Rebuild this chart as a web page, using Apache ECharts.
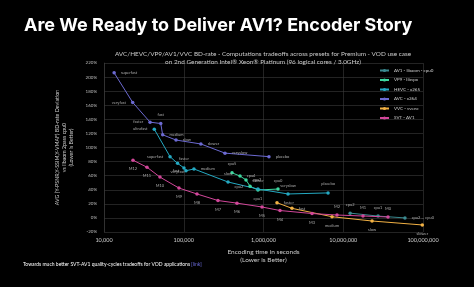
<!DOCTYPE html>
<html>
<head>
<meta charset="utf-8">
<script src="https://cdn.jsdelivr.net/npm/echarts@6/dist/echarts.min.js"></script>
<style>
html,body{margin:0;padding:0;background:#000;}
#chart{width:474px;height:287px;}
</style>
</head>
<body>
<div id="chart"></div>
<script>
// series data: [encoding time (s), BD-rate deviation (%), preset]
var av1Libaom = [[12200000, 6.8, "cpu2"], [27300000, 2.6, "cpu1"], [59400000, 0, "cpu2 ... cpu0"]];
var vp9Libvpx = [[403000, 64, "cpu5"], [507000, 59.5, "cpu4"], [603000, 54, "cpu3"], [678000, 45, "cpu2"],
	[852000, 39.6, "cpu1"], [1520000, 41, "cpu0"]];
var hevcX265 = [[42700, 126, "ultrafast"], [67300, 87, "superfast"], [83600, 77.5, "veryfast"], [100700, 71, "faster"],
	[106700, 67, "fast"], [134300, 69.5, "medium"], [359000, 51, "slow"], [852000, 41, "slower"],
	[2030000, 34, "veryslow"], [6450000, 35.5, "placebo"]];
var avcX264 = [[13400, 206, "superfast"], [22900, 164, "veryfast"], [37800, 136, "faster"], [51500, 134, "fast"],
	[54400, 118, "medium"], [80000, 110.6, "slow"], [164000, 105, "slower"], [329000, 92, "veryslow"], [1170000, 87, "placebo"]];
var vvcVvenc = [[1476000, 21.6, "faster"], [2275000, 13.6, "fast"], [7230000, 1.7, "medium"], [22970000, -4.4, "slow"], [98000000, -10, "slower"]];
var svtAv1 = [[23100, 82, "M12"], [34600, 72, "M11"], [50300, 58, "M10"], [87100, 42.4, "M9"], [146500, 34, "M8"],
	[268500, 24.7, "M7"], [465000, 21, "M6"], [958000, 15.5, "M5"], [1610000, 10.5, "M4"], [4060000, 6.2, "M3"],
	[8350000, 4.1, "M2"], [17700000, 2.7, "M1"], [36400000, 1.3, "M0"]];

var seriesNames = ["AV1 - libaom - cpu0", "VP9 - libvpx", "HEVC - x265", "AVC - x264", "VVC - vvenc", "SVT - AV1"];
var seriesData = [av1Libaom, vp9Libvpx, hevcX265, avcX264, vvcVvenc, svtAv1];
var colors = ["#3a8a90", "#3ed8a0", "#24a9c2", "#6c6ad2", "#f2b144", "#d2479a"];
var yTicks = [-20, 0, 20, 40, 60, 80, 100, 120, 140, 160, 180, 200, 220];

// where each point's label goes (per series)
var labelPos = [
	["top", "top", "right"],
	["top", "right", "right", "left", "bottom", "top"],
	["left", "left", "bottom", "top", "left", "right", "top", "top", "top", "top"],
	["right", "left", "left", "top", "right", "right", "right", "right", "right"],
	["right", "right", "bottom", "bottom", "bottom"],
	["bottom", "bottom", "bottom", "bottom", "bottom", "bottom", "bottom", "bottom", "bottom", "bottom", "top", "top", "top"]
];

var mychart = echarts.init(document.getElementById("chart"));
var series = [];
for (var i = 0; i < seriesData.length; i++) {
	var pts = [];
	for (var j = 0; j < seriesData[i].length; j++) {
		pts.push({
			value: seriesData[i][j],
			label: {position: labelPos[i][j]}
		});
	}
	let item = {
		name: seriesNames[i],
		type: "line",
		data: pts,
		symbol: "circle",
		symbolSize: 3.5,
		lineStyle: {width: 1},
		label: {
			show: true,
			formatter: function(p){ return p.value[2]; },
			distance: 5,
			color: "#aaa",
			fontSize: 4,
			fontFamily: "Lato"
		},
		z: i === 5 ? 5 : 3
	};
	series.push(item);
}

var option = {
	backgroundColor: "#000",
	color: colors,
	animation: false,
	title: [{
		text: "Are We Ready to Deliver AV1? Encoder Story",
		left: 19,
		top: 12,
		textStyle: {color: "#fff", fontSize: 18, fontWeight: "bold", fontFamily: "Inter"}
	}, {
		text: "AVC/HEVC/VP9/AV1/VVC BD-rate - Computations tradeoffs across presets for Premium - VOD use case\non 2nd Generation Intel\u00ae Xeon\u00ae Platinum (96 logical cores / 3.0GHz)",
		left: 258,
		top: 45,
		textAlign: "center",
		textStyle: {color: "#ccc", fontSize: 6.4, fontWeight: "normal", lineHeight: 8, fontFamily: "Lato"}
	}],
	legend: {
		left: 374,
		top: 63,
		orient: "vertical",
		itemWidth: 9,
		itemHeight: 4,
		itemGap: 4.5,
		textStyle: {color: "#ccc", fontSize: 4.5, fontFamily: "Lato"},
		data: seriesNames
	},
	grid: {left: 104, right: 51, top: 63, bottom: 55},
	xAxis: {
		type: "log",
		logBase: 10,
		min: 10000,
		max: 100000000,
		name: "Encoding time in seconds\n(Lower is Better)",
		nameLocation: "middle",
		nameGap: 15,
		nameTextStyle: {color: "#ccc", fontSize: 6.5, lineHeight: 8, fontFamily: "Lato"},
		axisLabel: {
			color: "#ccc",
			fontSize: 5.5,
			fontFamily: "Lato",
			margin: 5,
			formatter: function(v){ return Math.round(v).toLocaleString("en-US"); }
		},
		axisLine: {show: false},
		axisTick: {show: false},
		splitLine: {show: true, lineStyle: {color: "#3a3a3a", width: 0.6}}
	},
	yAxis: {
		type: "value",
		min: -20,
		max: 220,
		interval: 20,
		name: "AVG (Y-PSNR,Y-SSIM,Y-VMAF) BD-rate Deviation\nvs libaom 2pass cpu0\n(Lower is Better)",
		nameLocation: "middle",
		nameGap: 14,
		nameTextStyle: {color: "#ccc", fontSize: 5.3, lineHeight: 7, fontFamily: "Lato"},
		axisLabel: {
			color: "#bbb",
			fontSize: 4.5,
			fontFamily: "Lato",
			margin: 7,
			formatter: function(v){ return yTicks.indexOf(v) >= 0 ? v + "%" : ""; }
		},
		axisLine: {show: true, lineStyle: {color: "#3a3a3a", width: 0.6}},
		axisTick: {show: false},
		splitLine: {lineStyle: {color: "#3a3a3a", width: 0.6}}
	},
	graphic: [{
		type: "text",
		left: 23,
		top: 262,
		style: {
			text: "Towards much better SVT-AV1 quality-cycles tradeoffs for VOD applications {a|[link]}",
			fill: "#fff",
			fontSize: 5,
			fontFamily: "Lato",
			rich: {a: {fill: "#6a6ad8", fontSize: 5}}
		}
	}],
	series: series
};
mychart.setOption(option);
</script>
</body>
</html>
